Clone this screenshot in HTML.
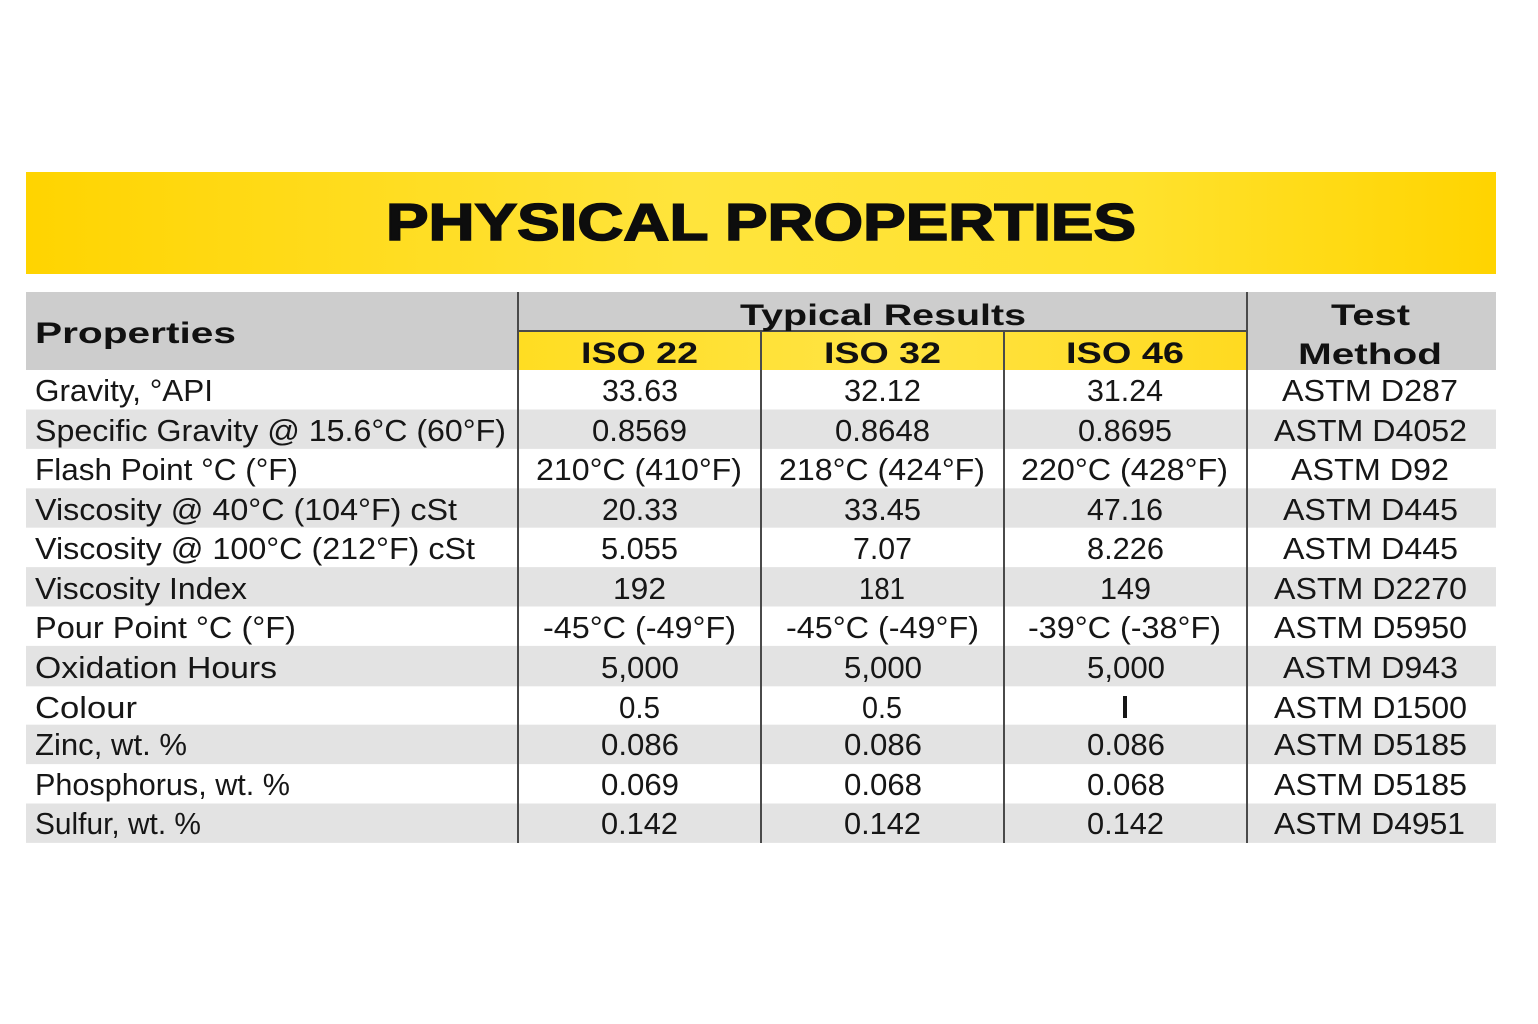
<!DOCTYPE html>
<html>
<head>
<meta charset="utf-8">
<style>
  html,body{margin:0;padding:0;background:#ffffff;}
  svg{display:block;}
  .t{font-family:"Liberation Sans",sans-serif;font-size:31px;fill:#161616;}
  .b{font-family:"Liberation Sans",sans-serif;font-weight:bold;font-size:30px;fill:#111;}
</style>
</head>
<body>
<svg width="1538" height="1024" viewBox="0 0 1538 1024" xmlns="http://www.w3.org/2000/svg">
  <defs>
    <linearGradient id="ban" x1="0" x2="1" y1="0" y2="0">
      <stop offset="0" stop-color="#FFD400"/>
      <stop offset="0.45" stop-color="#FFE43C"/>
      <stop offset="0.75" stop-color="#FFE22E"/>
      <stop offset="1" stop-color="#FFD400"/>
    </linearGradient>
    <linearGradient id="iso" x1="0" x2="1" y1="0" y2="0">
      <stop offset="0" stop-color="#FFDD22"/>
      <stop offset="0.5" stop-color="#FFE444"/>
      <stop offset="1" stop-color="#FFDA20"/>
    </linearGradient>
  </defs>
  <rect x="0" y="0" width="1538" height="1024" fill="#ffffff"/>

  <!-- Banner -->
  <rect x="26" y="172" width="1470" height="102" fill="url(#ban)"/>
  <text x="386" y="240" font-family="Liberation Sans, sans-serif" font-weight="bold" font-size="52" fill="#0d0d0d" stroke="#0d0d0d" stroke-width="1.6" textLength="750" lengthAdjust="spacingAndGlyphs">PHYSICAL PROPERTIES</text>

  <!-- Header -->
  <rect x="26" y="292" width="1470" height="78" fill="#CDCDCD"/>
  <rect x="519" y="331" width="728" height="39" fill="url(#iso)"/>

  <!-- Stripes -->
  <rect x="26" y="409.5" width="1470" height="39.4" fill="#E3E3E3"/>
  <rect x="26" y="488.3" width="1470" height="39.4" fill="#E3E3E3"/>
  <rect x="26" y="567.1" width="1470" height="39.4" fill="#E3E3E3"/>
  <rect x="26" y="645.9" width="1470" height="40.4" fill="#E3E3E3"/>
  <rect x="26" y="724.7" width="1470" height="39.4" fill="#E3E3E3"/>
  <rect x="26" y="803.5" width="1470" height="39.4" fill="#E3E3E3"/>

  <!-- Lines -->
  <g stroke="#4a4a4a" stroke-width="2">
    <line x1="518" y1="292" x2="518" y2="843"/>
    <line x1="1247" y1="292" x2="1247" y2="843"/>
    <line x1="761" y1="331" x2="761" y2="843"/>
    <line x1="1004" y1="331" x2="1004" y2="843"/>
    <line x1="518" y1="331" x2="1247" y2="331"/>
  </g>

  <!-- Header text -->
  <text class="b" x="35" y="343" textLength="201" lengthAdjust="spacingAndGlyphs">Properties</text>
  <text class="b" x="740" y="325" textLength="286" lengthAdjust="spacingAndGlyphs">Typical Results</text>
  <text class="b" x="581" y="363" textLength="117" lengthAdjust="spacingAndGlyphs">ISO 22</text>
  <text class="b" x="824" y="363" textLength="117" lengthAdjust="spacingAndGlyphs">ISO 32</text>
  <text class="b" x="1066" y="363" textLength="118" lengthAdjust="spacingAndGlyphs">ISO 46</text>
  <text class="b" x="1331" y="325" textLength="79" lengthAdjust="spacingAndGlyphs">Test</text>
  <text class="b" x="1298" y="364" textLength="144" lengthAdjust="spacingAndGlyphs">Method</text>

  <!-- Left labels -->
  <g class="t">
    <text class="t" x="35" y="401" textLength="178" lengthAdjust="spacingAndGlyphs">Gravity, °API</text>
    <text class="t" x="35" y="441" textLength="471" lengthAdjust="spacingAndGlyphs">Specific Gravity @ 15.6°C (60°F)</text>
    <text class="t" x="35" y="480" textLength="263" lengthAdjust="spacingAndGlyphs">Flash Point °C (°F)</text>
    <text class="t" x="35" y="520" textLength="422" lengthAdjust="spacingAndGlyphs">Viscosity @ 40°C (104°F) cSt</text>
    <text class="t" x="35" y="559" textLength="440" lengthAdjust="spacingAndGlyphs">Viscosity @ 100°C (212°F) cSt</text>
    <text class="t" x="35" y="599" textLength="212" lengthAdjust="spacingAndGlyphs">Viscosity Index</text>
    <text class="t" x="35" y="638" textLength="261" lengthAdjust="spacingAndGlyphs">Pour Point °C (°F)</text>
    <text class="t" x="35" y="678" textLength="242" lengthAdjust="spacingAndGlyphs">Oxidation Hours</text>
    <text class="t" x="35" y="718" textLength="102" lengthAdjust="spacingAndGlyphs">Colour</text>
    <text class="t" x="35" y="755" textLength="152" lengthAdjust="spacingAndGlyphs">Zinc, wt. %</text>
    <text class="t" x="35" y="795" textLength="255" lengthAdjust="spacingAndGlyphs">Phosphorus, wt. %</text>
    <text class="t" x="35" y="834" textLength="166" lengthAdjust="spacingAndGlyphs">Sulfur, wt. %</text>
  </g>

  <!-- Column 1 -->
  <text class="t" x="602" y="401" textLength="76" lengthAdjust="spacingAndGlyphs">33.63</text>
  <text class="t" x="592" y="441" textLength="95" lengthAdjust="spacingAndGlyphs">0.8569</text>
  <text class="t" x="536" y="480" textLength="206" lengthAdjust="spacingAndGlyphs">210°C (410°F)</text>
  <text class="t" x="602" y="520" textLength="76" lengthAdjust="spacingAndGlyphs">20.33</text>
  <text class="t" x="601" y="559" textLength="77" lengthAdjust="spacingAndGlyphs">5.055</text>
  <text class="t" x="613" y="599" textLength="53" lengthAdjust="spacingAndGlyphs">192</text>
  <text class="t" x="543" y="638" textLength="193" lengthAdjust="spacingAndGlyphs">-45°C (-49°F)</text>
  <text class="t" x="601" y="678" textLength="78" lengthAdjust="spacingAndGlyphs">5,000</text>
  <text class="t" x="619" y="718" textLength="41" lengthAdjust="spacingAndGlyphs">0.5</text>
  <text class="t" x="601" y="755" textLength="78" lengthAdjust="spacingAndGlyphs">0.086</text>
  <text class="t" x="601" y="795" textLength="78" lengthAdjust="spacingAndGlyphs">0.069</text>
  <text class="t" x="601" y="834" textLength="77" lengthAdjust="spacingAndGlyphs">0.142</text>

  <!-- Column 2 -->
  <text class="t" x="844" y="401" textLength="77" lengthAdjust="spacingAndGlyphs">32.12</text>
  <text class="t" x="835" y="441" textLength="95" lengthAdjust="spacingAndGlyphs">0.8648</text>
  <text class="t" x="779" y="480" textLength="206" lengthAdjust="spacingAndGlyphs">218°C (424°F)</text>
  <text class="t" x="844" y="520" textLength="77" lengthAdjust="spacingAndGlyphs">33.45</text>
  <text class="t" x="853" y="559" textLength="59" lengthAdjust="spacingAndGlyphs">7.07</text>
  <text class="t" x="859" y="599" textLength="46" lengthAdjust="spacingAndGlyphs">181</text>
  <text class="t" x="786" y="638" textLength="193" lengthAdjust="spacingAndGlyphs">-45°C (-49°F)</text>
  <text class="t" x="844" y="678" textLength="78" lengthAdjust="spacingAndGlyphs">5,000</text>
  <text class="t" x="862" y="718" textLength="40" lengthAdjust="spacingAndGlyphs">0.5</text>
  <text class="t" x="844" y="755" textLength="78" lengthAdjust="spacingAndGlyphs">0.086</text>
  <text class="t" x="844" y="795" textLength="78" lengthAdjust="spacingAndGlyphs">0.068</text>
  <text class="t" x="844" y="834" textLength="77" lengthAdjust="spacingAndGlyphs">0.142</text>

  <!-- Column 3 -->
  <text class="t" x="1087" y="401" textLength="76" lengthAdjust="spacingAndGlyphs">31.24</text>
  <text class="t" x="1078" y="441" textLength="94" lengthAdjust="spacingAndGlyphs">0.8695</text>
  <text class="t" x="1021" y="480" textLength="207" lengthAdjust="spacingAndGlyphs">220°C (428°F)</text>
  <text class="t" x="1087" y="520" textLength="76" lengthAdjust="spacingAndGlyphs">47.16</text>
  <text class="t" x="1087" y="559" textLength="77" lengthAdjust="spacingAndGlyphs">8.226</text>
  <text class="t" x="1100" y="599" textLength="51" lengthAdjust="spacingAndGlyphs">149</text>
  <text class="t" x="1028" y="638" textLength="193" lengthAdjust="spacingAndGlyphs">-39°C (-38°F)</text>
  <text class="t" x="1087" y="678" textLength="78" lengthAdjust="spacingAndGlyphs">5,000</text>
  <rect x="1123" y="696" width="4" height="22" fill="#161616"/>
  <text class="t" x="1087" y="755" textLength="78" lengthAdjust="spacingAndGlyphs">0.086</text>
  <text class="t" x="1087" y="795" textLength="78" lengthAdjust="spacingAndGlyphs">0.068</text>
  <text class="t" x="1087" y="834" textLength="77" lengthAdjust="spacingAndGlyphs">0.142</text>

  <!-- Test methods -->
  <text class="t" x="1282" y="401" textLength="176" lengthAdjust="spacingAndGlyphs">ASTM D287</text>
  <text class="t" x="1274" y="441" textLength="193" lengthAdjust="spacingAndGlyphs">ASTM D4052</text>
  <text class="t" x="1291" y="480" textLength="158" lengthAdjust="spacingAndGlyphs">ASTM D92</text>
  <text class="t" x="1283" y="520" textLength="175" lengthAdjust="spacingAndGlyphs">ASTM D445</text>
  <text class="t" x="1283" y="559" textLength="175" lengthAdjust="spacingAndGlyphs">ASTM D445</text>
  <text class="t" x="1274" y="599" textLength="193" lengthAdjust="spacingAndGlyphs">ASTM D2270</text>
  <text class="t" x="1274" y="638" textLength="193" lengthAdjust="spacingAndGlyphs">ASTM D5950</text>
  <text class="t" x="1283" y="678" textLength="175" lengthAdjust="spacingAndGlyphs">ASTM D943</text>
  <text class="t" x="1274" y="718" textLength="193" lengthAdjust="spacingAndGlyphs">ASTM D1500</text>
  <text class="t" x="1274" y="755" textLength="193" lengthAdjust="spacingAndGlyphs">ASTM D5185</text>
  <text class="t" x="1274" y="795" textLength="193" lengthAdjust="spacingAndGlyphs">ASTM D5185</text>
  <text class="t" x="1274" y="834" textLength="191" lengthAdjust="spacingAndGlyphs">ASTM D4951</text>
</svg>
</body>
</html>
